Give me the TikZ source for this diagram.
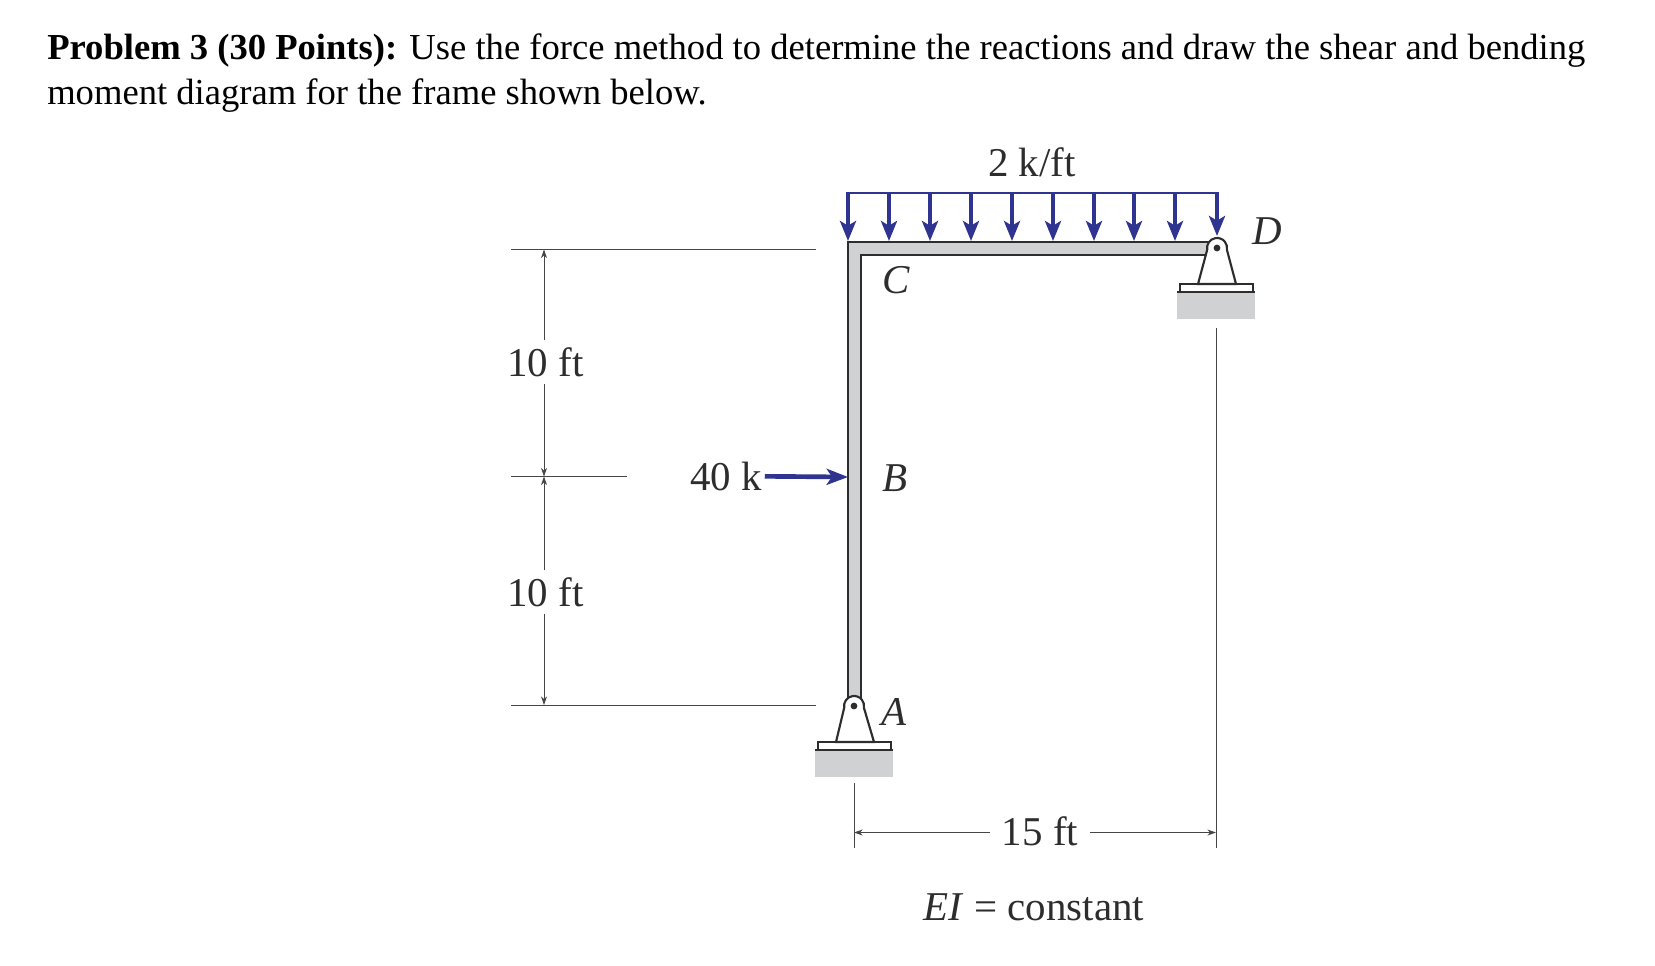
\documentclass[tikz,border=0pt]{standalone}
\usepackage{fontspec}
\setmainfont{Liberation Serif}
\usetikzlibrary{arrows.meta}
\definecolor{loadblue}{RGB}{46,52,143}
\definecolor{framegray}{RGB}{208,209,211}
\definecolor{inkgray}{RGB}{45,45,45}
\definecolor{dimgray}{RGB}{70,70,70}
\begin{document}
\begin{tikzpicture}[x=0.75pt,y=-0.75pt,
title node/.style={anchor=base west,inner sep=0pt,font=\fontsize{27.45}{30}\selectfont,text=black},
dim node/.style={fill=white,inner xsep=2pt,inner ysep=5pt,font=\fontsize{30.7}{33}\selectfont,text=inkgray},
point node/.style={inner sep=0pt,font=\fontsize{30.7}{33}\selectfont\itshape,text=inkgray},
load/.style={draw=loadblue,line width=3pt,-{Stealth[length=15pt,width=12pt,inset=3.5pt]}},
dim/.style={draw=dimgray,line width=0.7pt},
dimarrow/.style={dim,-{Stealth[length=6.5pt,width=4.5pt]}},
member/.style={fill=framegray,draw=inkgray,line width=1.7pt},
base/.style={fill=white,draw=inkgray,line width=1.6pt},
ground/.style={fill=framegray,draw=none}]
\useasboundingbox (0,0) rectangle (1655,965);
% problem text
\node[title node] (t1) at (47,59) {\textbf{Problem 3 (30 Points):} Use the force method to determine the reactions and draw the shear and bending};
\node[title node] (t2) at (47,104) {moment diagram for the frame shown below.};
% frame
\draw[member] (848,700) -- (848,242) -- (1210,242) -- (1210,255) -- (861,255) -- (861,700) -- cycle;
% support at A
\draw[base] (818,749) -- (818,742) -- (891,742) -- (891,749);
\draw[ground] (815,750) rectangle (893,777);
\draw[base] (815,750) -- (893,750);
\draw[base] (836,742) -- (844.2,707.7) arc (170:370:10) -- (874,742) -- cycle;
\fill[inkgray] (854,706) circle (3.4);
% support at D
\draw[base] (1180,291) -- (1180,284) -- (1253,284) -- (1253,291);
\draw[ground] (1177,292) rectangle (1255,319);
\draw[base] (1177,292) -- (1255,292);
\draw[base] (1198,284) -- (1207.2,249.7) arc (170:370:10) -- (1236,284) -- cycle;
\fill[inkgray] (1217,248) circle (3.4);
% distributed load
\coordinate (q1) at (848,193);
\coordinate (q2) at (889,193);
\coordinate (q3) at (930,193);
\coordinate (q4) at (971,193);
\coordinate (q5) at (1012,193);
\coordinate (q6) at (1053,193);
\coordinate (q7) at (1094,193);
\coordinate (q8) at (1134,193);
\coordinate (q9) at (1175,193);
\coordinate (q10) at (1217,193);
\coordinate (p1) at (848,241);
\coordinate (p2) at (889,241);
\coordinate (p3) at (930,241);
\coordinate (p4) at (971,241);
\coordinate (p5) at (1012,241);
\coordinate (p6) at (1053,241);
\coordinate (p7) at (1094,241);
\coordinate (p8) at (1134,241);
\coordinate (p9) at (1175,241);
\coordinate (p10) at (1217,236);
\draw[draw=loadblue,line width=2.2pt] ([xshift=-1.5pt]q1) -- ([xshift=1.5pt]q10);
\draw[load] (q1) -- (p1);
\draw[load] (q2) -- (p2);
\draw[load] (q3) -- (p3);
\draw[load] (q4) -- (p4);
\draw[load] (q5) -- (p5);
\draw[load] (q6) -- (p6);
\draw[load] (q7) -- (p7);
\draw[load] (q8) -- (p8);
\draw[load] (q9) -- (p9);
\draw[load] (q10) -- (p10);
% labels
\node[dim node,fill=none] (w) at (1032,162) {2 k/ft};
\node[dim node,fill=none,inner sep=2pt] (f) at (726,476) {40 k};
\node[point node] (C) at (896,280) {C};
\node[point node] (B) at (895,478) {B};
\node[point node] (A) at (894,712) {A};
\node[point node] (D) at (1267,231) {D};
\coordinate (fb) at (848,477);
\draw[load,line width=3.5pt,-{Stealth[length=16pt,width=12pt,inset=4pt]}] (f) -- (fb);
% dimensions
\coordinate (e1a) at (511,249.5);
\coordinate (e1b) at (816,249.5);
\coordinate (e2a) at (511,476.5);
\coordinate (e2b) at (627,476.5);
\coordinate (e3a) at (511,705);
\coordinate (e3b) at (816,705);
\coordinate (d1) at (544,249.5);
\coordinate (d2) at (544,476.5);
\coordinate (d3) at (544,705);
\node[dim node] (h1) at (545.5,362) {10 ft};
\node[dim node] (h2) at (545.5,592) {10 ft};
\draw[dim] (e1a) -- (e1b);
\draw[dim] (e2a) -- (e2b);
\draw[dim] (e3a) -- (e3b);
\draw[dimarrow] (h1.north -| d1) -- (d1);
\draw[dimarrow] (h1.south -| d2) -- (d2);
\draw[dimarrow] (h2.north -| d2) -- (d2);
\draw[dimarrow] (h2.south -| d3) -- (d3);
\coordinate (x1a) at (854,783);
\coordinate (x1b) at (854,848);
\coordinate (x2a) at (1216,328);
\coordinate (x2b) at (1216,848);
\coordinate (d4) at (854,832.5);
\coordinate (d5) at (1216,832.5);
\node[dim node,inner xsep=9pt] (b1) at (1040,831) {15 ft};
\draw[dim] (x1a) -- (x1b);
\draw[dim] (x2a) -- (x2b);
\draw[dimarrow] (b1.west |- d4) -- (d4);
\draw[dimarrow] (b1.east |- d5) -- (d5);
\node[dim node,fill=none] (EI) at (1034,907) {\textit{EI} = constant};
\end{tikzpicture}
\end{document}
